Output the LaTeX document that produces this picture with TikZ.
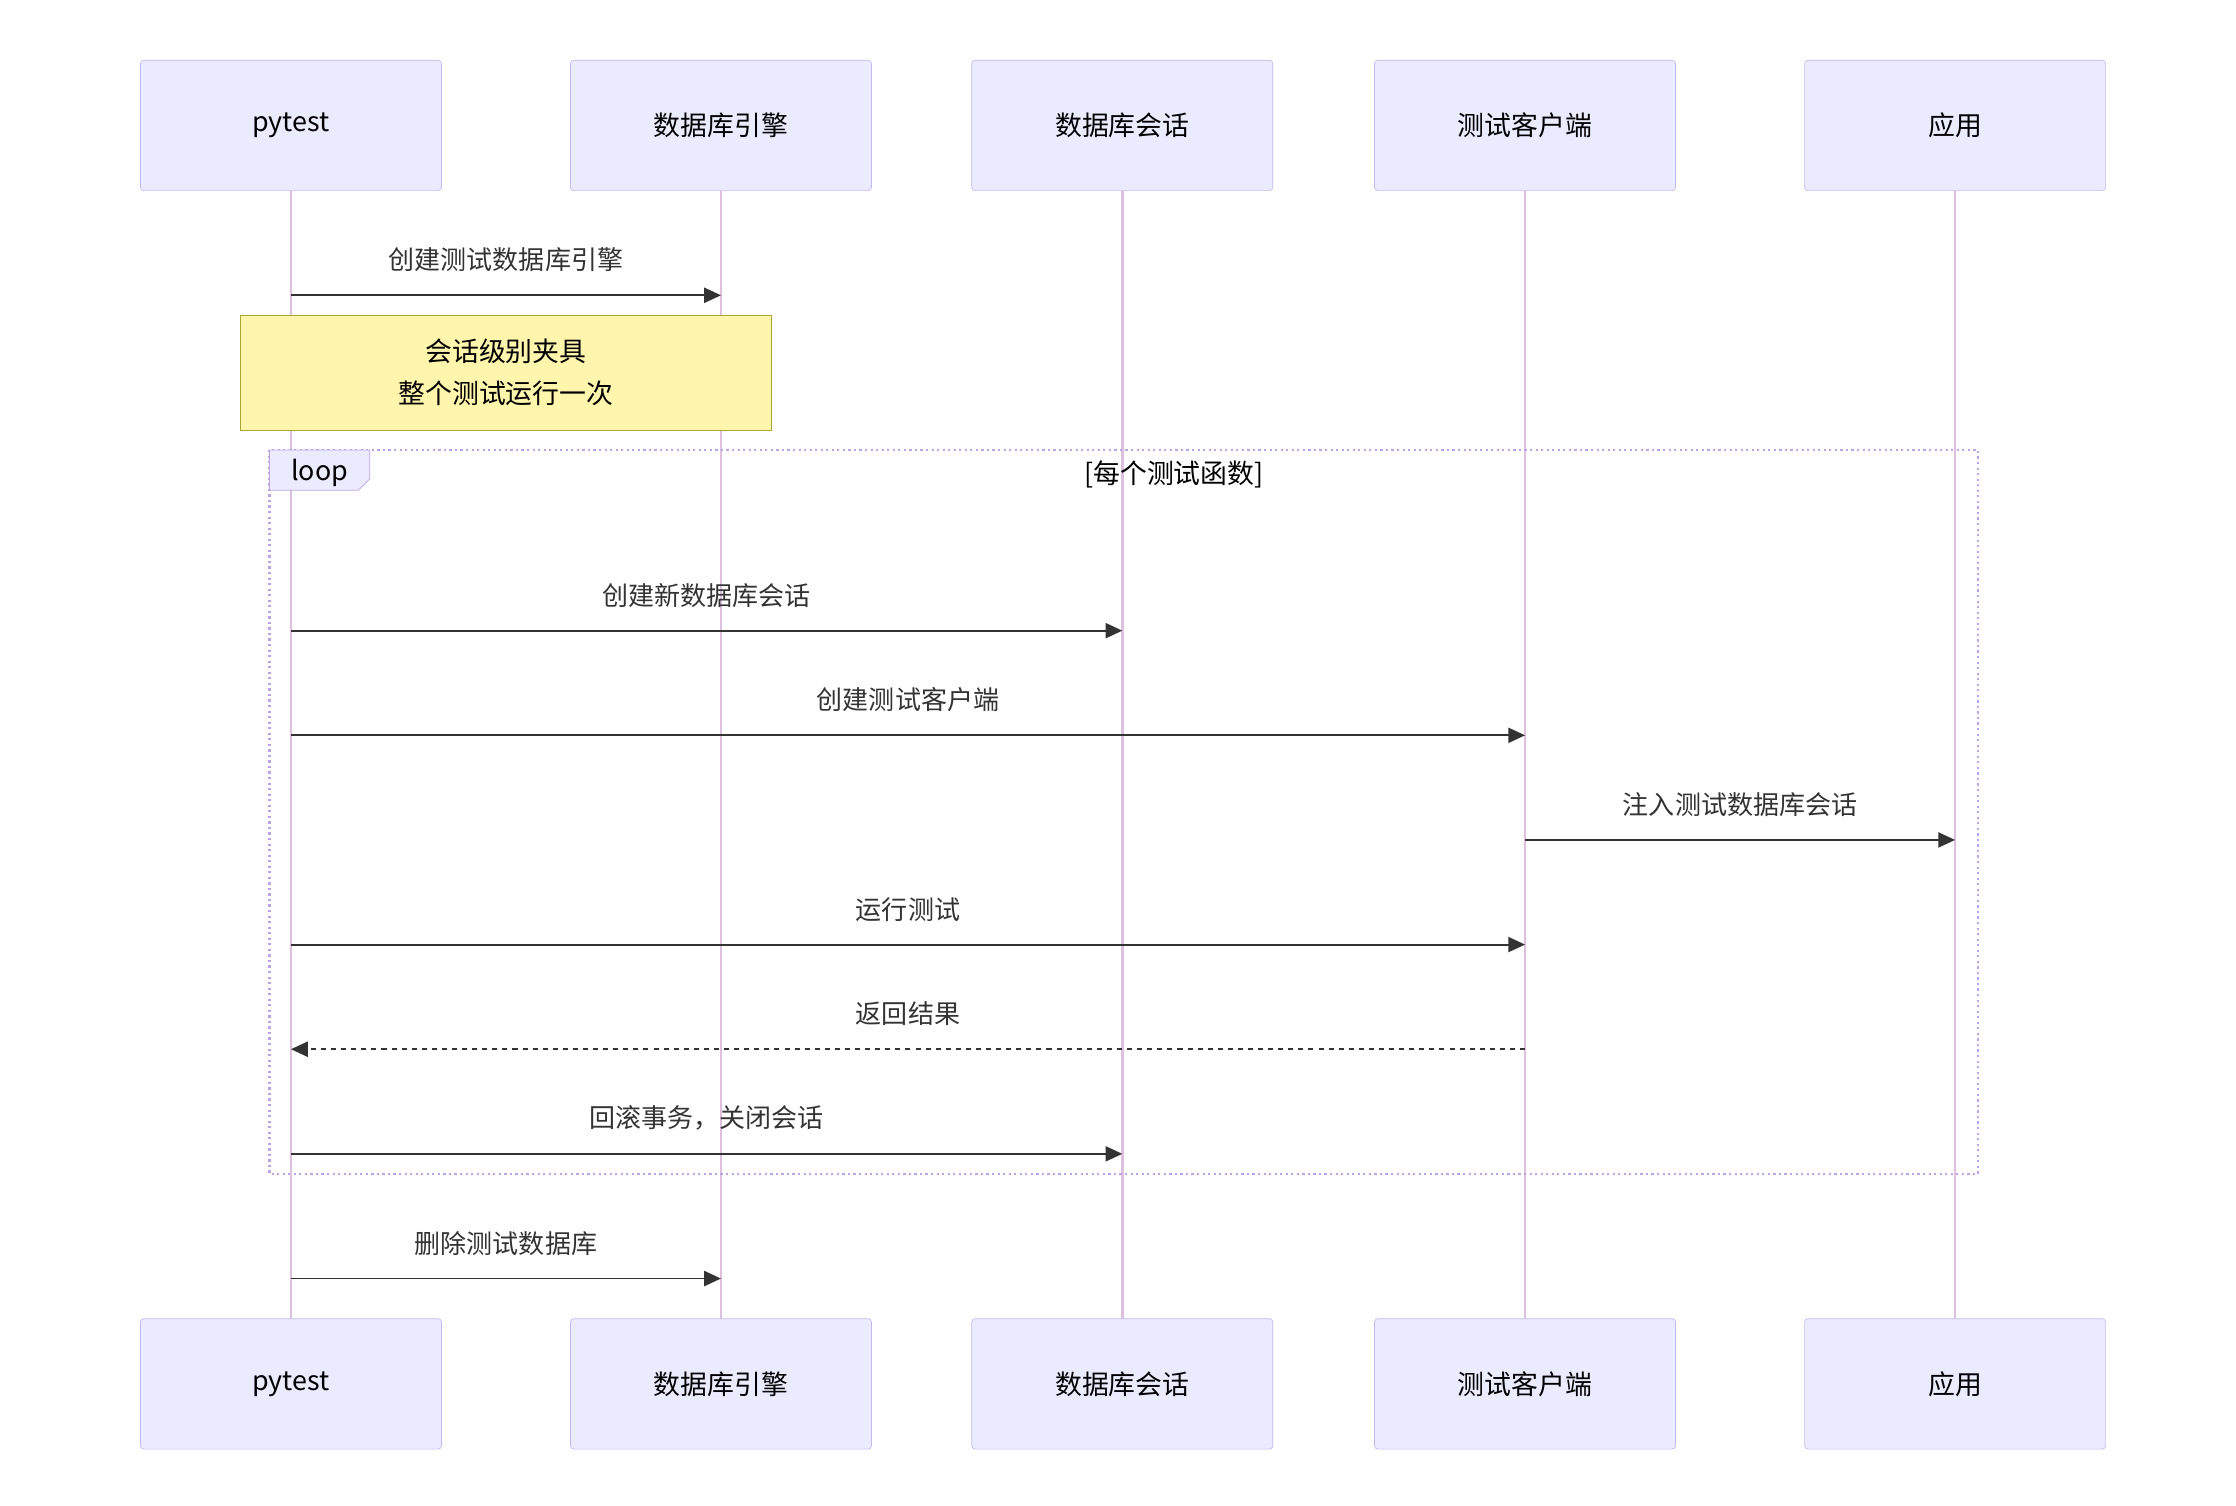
\documentclass[tikz,border=0pt]{standalone}
\usepackage{fontspec}
\setmainfont{Noto Sans CJK SC}
\usetikzlibrary{arrows.meta}
\begin{document}
\begin{tikzpicture}[x=0.03cm,y=-0.03cm,
 actor/.style={draw=black!20!blue!25!purple!30,fill=blue!8,minimum width=210*0.03cm,minimum height=91*0.03cm,inner sep=0,rounded corners=2pt,font=\fontsize{16}{19}\selectfont},
 life/.style={draw=violet!25,line width=1.5pt},
 msg/.style={draw=black!80,line width=1.1pt,-{Triangle[length=10pt,width=9pt]}},
 lbl/.style={font=\fontsize{15.5}{18}\selectfont,text=black!80},
 ]
\useasboundingbox (0,0) rectangle (1560,1050);
\definecolor{actb}{HTML}{CCCCFF}
\foreach \n/\x/\t in {a/203/pytest,b/503/数据库引擎,c/783/数据库会话,d/1064/测试客户端,e/1364/应用}{
 \draw[life] (\x,133) -- (\x,920);
 \node[actor,draw=actb!90!violet] (\n1) at (\x,87.5) {\t};
 \node[actor,draw=actb!90!violet] (\n2) at (\x,965.5) {\t};
}
\foreach \y in {206,440,513,586,659,732,805,892}{\coordinate (ya\y) at (203,\y);\coordinate (yb\y) at (503,\y);\coordinate (yc\y) at (783,\y);\coordinate (yd\y) at (1064,\y);\coordinate (ye\y) at (1364,\y);}
\node[draw={rgb,255:red,170;green,170;blue,51},fill={rgb,255:red,255;green,245;blue,173},minimum width=370*0.03cm,minimum height=80*0.03cm,align=center,font=\fontsize{16}{25}\selectfont] (note) at (353,260) {会话级别夹具\\整个测试运行一次};
\draw[draw=actb!80!violet,line width=1.3pt,dotted] (188,314) rectangle (1380,819);
\draw[draw=actb!80!violet,fill=blue!8] (188,314) -- (258,314) -- (258,334) -- (250,342) -- (188,342) -- cycle;
\node[font=\fontsize{16}{19}\selectfont] (lp) at (223,330) {loop};
\node[font=\fontsize{16}{19}\selectfont] (lc) at (819,331) {[每个测试函数]};
\draw[msg] (ya206) -- (yb206) node[lbl,midway,above=10pt] {创建测试数据库引擎};
\draw[msg] (ya440) -- (yc440) node[lbl,midway,above=10pt] {创建新数据库会话};
\draw[msg] (ya513) -- (yd513) node[lbl,midway,above=10pt] {创建测试客户端};
\draw[msg] (yd586) -- (ye586) node[lbl,midway,above=10pt] {注入测试数据库会话};
\draw[msg] (ya659) -- (yd659) node[lbl,midway,above=10pt] {运行测试};
\draw[msg,dashed] (yd732) -- (ya732) node[lbl,midway,above=10pt] {返回结果};
\draw[msg] (ya805) -- (yc805) node[lbl,midway,above=10pt] {回滚事务，关闭会话};
\draw[msg] (ya892) -- (yb892) node[lbl,midway,above=10pt] {删除测试数据库};
\end{tikzpicture}
\end{document}
